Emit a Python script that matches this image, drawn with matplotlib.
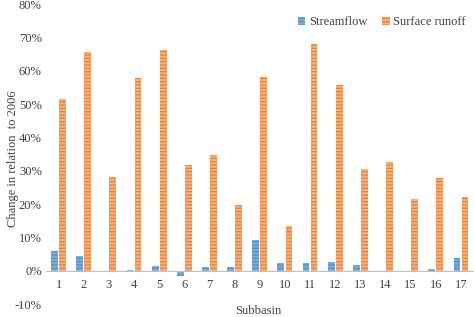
import matplotlib
matplotlib.use("Agg")
import matplotlib.pyplot as plt
from matplotlib.ticker import FuncFormatter
import numpy as np

plt.rcParams['font.family'] = ['Liberation Serif', 'DejaVu Serif']
plt.rcParams['hatch.linewidth'] = 0.8

subbasins = [str(i) for i in range(1, 18)]
streamflow = [6.0, 4.5, -0.3, 0.1, 1.5, -1.5, 1.2, 1.2, 9.3, 2.2, 2.3, 2.7, 1.6, 0.0, -0.5, 0.5, 3.8]
surface_runoff = [51.5, 65.5, 28.2, 57.7, 66.3, 31.8, 34.8, 19.8, 58.0, 13.5, 68.0, 55.6, 30.4, 32.7, 21.6, 27.9, 22.2]

fig = plt.figure(figsize=(4.74, 3.17), dpi=100)
ax = fig.add_axes([0.097, 0.041, 0.902, 0.946])

x = np.arange(1, len(subbasins) + 1)
w = 0.27
ax.bar(x - 0.16, streamflow, w, color='#7AAEDD', edgecolor='#4F8CC9', hatch='-----',
       linewidth=0, label='Streamflow')
ax.bar(x + 0.16, surface_runoff, w, color='#F6AE7A', edgecolor='#EC7C30', hatch='-----',
       linewidth=0, label='Surface runoff')

ax.set_xlim(0.5, 17.5)
ax.set_ylim(-10, 80)
ax.set_yticks(np.arange(-10, 81, 10))
ax.yaxis.set_major_formatter(FuncFormatter(lambda v, p: f"{v:.0f}%"))
ax.set_xticks(x)
ax.set_xticklabels(subbasins)

for s in ['top', 'right', 'left']:
    ax.spines[s].set_visible(False)
ax.spines['bottom'].set_position(('data', 0))
ax.spines['bottom'].set_color('#BFBFBF')
ax.tick_params(axis='both', length=0, labelsize=9, colors='#404040')
ax.tick_params(axis='x', pad=6)
ax.tick_params(axis='y', pad=3)

fig.text(0.027, 0.5, 'Change in relation  to 2006', fontsize=9, color='#404040',
         rotation=90, ha='center', va='center')
fig.text(0.545, 0.008, 'Subbasin', fontsize=9, color='#404040', ha='center')

leg = ax.legend(loc='upper right', bbox_to_anchor=(1.0, 0.985), ncol=2, frameon=False,
                fontsize=9, handlelength=0.6, handleheight=0.6, handletextpad=0.3,
                columnspacing=1.2, borderaxespad=0.2)
for t in leg.get_texts():
    t.set_color('#404040')

fig.savefig('out.png', dpi=100)
